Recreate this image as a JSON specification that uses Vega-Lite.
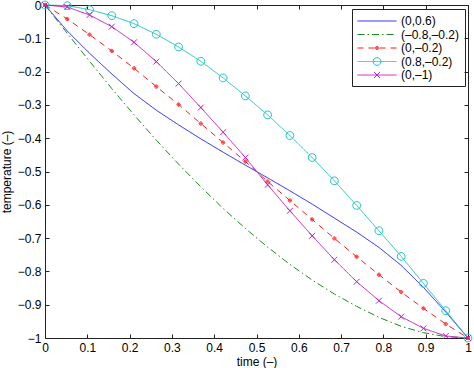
{
  "$schema": "https://vega.github.io/schema/vega-lite/v6.json",
  "width": 423,
  "height": 333,
  "autosize": {"type": "none"},
  "padding": {"left": 45, "top": 5, "right": 6, "bottom": 30},
  "background": "white",
  "config": {
    "view": {"stroke": null},
    "axis": {
      "grid": false,
      "domainColor": "#222222",
      "tickColor": "#222222",
      "domainWidth": 1,
      "tickWidth": 1,
      "labelFont": "Liberation Sans",
      "labelFontSize": 12,
      "labelColor": "black",
      "titleFont": "Liberation Sans",
      "titleFontSize": 12,
      "titleFontWeight": "normal",
      "titleColor": "black",
      "labelFlush": false,
      "labelOverlap": false
    }
  },
  "data": {
    "values": [
      {"series": "(0,0.6)", "time": 0, "temperature": 0},
      {"series": "(0,0.6)", "time": 0.0526, "temperature": -0.078},
      {"series": "(0,0.6)", "time": 0.1053, "temperature": -0.145},
      {"series": "(0,0.6)", "time": 0.1579, "temperature": -0.207},
      {"series": "(0,0.6)", "time": 0.2105, "temperature": -0.266},
      {"series": "(0,0.6)", "time": 0.2632, "temperature": -0.316},
      {"series": "(0,0.6)", "time": 0.3158, "temperature": -0.36},
      {"series": "(0,0.6)", "time": 0.3684, "temperature": -0.402},
      {"series": "(0,0.6)", "time": 0.4211, "temperature": -0.442},
      {"series": "(0,0.6)", "time": 0.4737, "temperature": -0.481},
      {"series": "(0,0.6)", "time": 0.5263, "temperature": -0.519},
      {"series": "(0,0.6)", "time": 0.5789, "temperature": -0.558},
      {"series": "(0,0.6)", "time": 0.6316, "temperature": -0.598},
      {"series": "(0,0.6)", "time": 0.6842, "temperature": -0.64},
      {"series": "(0,0.6)", "time": 0.7368, "temperature": -0.682},
      {"series": "(0,0.6)", "time": 0.7895, "temperature": -0.728},
      {"series": "(0,0.6)", "time": 0.8421, "temperature": -0.782},
      {"series": "(0,0.6)", "time": 0.8947, "temperature": -0.848},
      {"series": "(0,0.6)", "time": 0.9474, "temperature": -0.922},
      {"series": "(0,0.6)", "time": 1, "temperature": -1},
      {"series": "(–0.8,–0.2)", "time": 0, "temperature": 0},
      {"series": "(–0.8,–0.2)", "time": 0.0526, "temperature": -0.085},
      {"series": "(–0.8,–0.2)", "time": 0.1053, "temperature": -0.169},
      {"series": "(–0.8,–0.2)", "time": 0.1579, "temperature": -0.251},
      {"series": "(–0.8,–0.2)", "time": 0.2105, "temperature": -0.33},
      {"series": "(–0.8,–0.2)", "time": 0.2632, "temperature": -0.406},
      {"series": "(–0.8,–0.2)", "time": 0.3158, "temperature": -0.478},
      {"series": "(–0.8,–0.2)", "time": 0.3684, "temperature": -0.546},
      {"series": "(–0.8,–0.2)", "time": 0.4211, "temperature": -0.611},
      {"series": "(–0.8,–0.2)", "time": 0.4737, "temperature": -0.671},
      {"series": "(–0.8,–0.2)", "time": 0.5263, "temperature": -0.727},
      {"series": "(–0.8,–0.2)", "time": 0.5789, "temperature": -0.779},
      {"series": "(–0.8,–0.2)", "time": 0.6316, "temperature": -0.826},
      {"series": "(–0.8,–0.2)", "time": 0.6842, "temperature": -0.868},
      {"series": "(–0.8,–0.2)", "time": 0.7368, "temperature": -0.905},
      {"series": "(–0.8,–0.2)", "time": 0.7895, "temperature": -0.938},
      {"series": "(–0.8,–0.2)", "time": 0.8421, "temperature": -0.965},
      {"series": "(–0.8,–0.2)", "time": 0.8947, "temperature": -0.984},
      {"series": "(–0.8,–0.2)", "time": 0.9474, "temperature": -0.996},
      {"series": "(–0.8,–0.2)", "time": 1, "temperature": -1},
      {"series": "(0,–0.2)", "time": 0, "temperature": 0},
      {"series": "(0,–0.2)", "time": 0.0526, "temperature": -0.042},
      {"series": "(0,–0.2)", "time": 0.1053, "temperature": -0.089},
      {"series": "(0,–0.2)", "time": 0.1579, "temperature": -0.138},
      {"series": "(0,–0.2)", "time": 0.2105, "temperature": -0.19},
      {"series": "(0,–0.2)", "time": 0.2632, "temperature": -0.245},
      {"series": "(0,–0.2)", "time": 0.3158, "temperature": -0.299},
      {"series": "(0,–0.2)", "time": 0.3684, "temperature": -0.356},
      {"series": "(0,–0.2)", "time": 0.4211, "temperature": -0.413},
      {"series": "(0,–0.2)", "time": 0.4737, "temperature": -0.47},
      {"series": "(0,–0.2)", "time": 0.5263, "temperature": -0.53},
      {"series": "(0,–0.2)", "time": 0.5789, "temperature": -0.587},
      {"series": "(0,–0.2)", "time": 0.6316, "temperature": -0.644},
      {"series": "(0,–0.2)", "time": 0.6842, "temperature": -0.701},
      {"series": "(0,–0.2)", "time": 0.7368, "temperature": -0.756},
      {"series": "(0,–0.2)", "time": 0.7895, "temperature": -0.81},
      {"series": "(0,–0.2)", "time": 0.8421, "temperature": -0.862},
      {"series": "(0,–0.2)", "time": 0.8947, "temperature": -0.911},
      {"series": "(0,–0.2)", "time": 0.9474, "temperature": -0.958},
      {"series": "(0,–0.2)", "time": 1, "temperature": -1},
      {"series": "(0.8,–0.2)", "time": 0, "temperature": 0},
      {"series": "(0.8,–0.2)", "time": 0.0526, "temperature": -0.002},
      {"series": "(0.8,–0.2)", "time": 0.1053, "temperature": -0.014},
      {"series": "(0.8,–0.2)", "time": 0.1579, "temperature": -0.032},
      {"series": "(0.8,–0.2)", "time": 0.2105, "temperature": -0.056},
      {"series": "(0.8,–0.2)", "time": 0.2632, "temperature": -0.088},
      {"series": "(0.8,–0.2)", "time": 0.3158, "temperature": -0.126},
      {"series": "(0.8,–0.2)", "time": 0.3684, "temperature": -0.169},
      {"series": "(0.8,–0.2)", "time": 0.4211, "temperature": -0.219},
      {"series": "(0.8,–0.2)", "time": 0.4737, "temperature": -0.273},
      {"series": "(0.8,–0.2)", "time": 0.5263, "temperature": -0.33},
      {"series": "(0.8,–0.2)", "time": 0.5789, "temperature": -0.392},
      {"series": "(0.8,–0.2)", "time": 0.6316, "temperature": -0.458},
      {"series": "(0.8,–0.2)", "time": 0.6842, "temperature": -0.528},
      {"series": "(0.8,–0.2)", "time": 0.7368, "temperature": -0.602},
      {"series": "(0.8,–0.2)", "time": 0.7895, "temperature": -0.678},
      {"series": "(0.8,–0.2)", "time": 0.8421, "temperature": -0.755},
      {"series": "(0.8,–0.2)", "time": 0.8947, "temperature": -0.836},
      {"series": "(0.8,–0.2)", "time": 0.9474, "temperature": -0.918},
      {"series": "(0.8,–0.2)", "time": 1, "temperature": -1},
      {"series": "(0,–1)", "time": 0, "temperature": 0},
      {"series": "(0,–1)", "time": 0.0526, "temperature": -0.006},
      {"series": "(0,–1)", "time": 0.1053, "temperature": -0.03},
      {"series": "(0,–1)", "time": 0.1579, "temperature": -0.065},
      {"series": "(0,–1)", "time": 0.2105, "temperature": -0.112},
      {"series": "(0,–1)", "time": 0.2632, "temperature": -0.17},
      {"series": "(0,–1)", "time": 0.3158, "temperature": -0.236},
      {"series": "(0,–1)", "time": 0.3684, "temperature": -0.308},
      {"series": "(0,–1)", "time": 0.4211, "temperature": -0.382},
      {"series": "(0,–1)", "time": 0.4737, "temperature": -0.458},
      {"series": "(0,–1)", "time": 0.5263, "temperature": -0.54},
      {"series": "(0,–1)", "time": 0.5789, "temperature": -0.618},
      {"series": "(0,–1)", "time": 0.6316, "temperature": -0.693},
      {"series": "(0,–1)", "time": 0.6842, "temperature": -0.765},
      {"series": "(0,–1)", "time": 0.7368, "temperature": -0.831},
      {"series": "(0,–1)", "time": 0.7895, "temperature": -0.888},
      {"series": "(0,–1)", "time": 0.8421, "temperature": -0.936},
      {"series": "(0,–1)", "time": 0.8947, "temperature": -0.971},
      {"series": "(0,–1)", "time": 0.9474, "temperature": -0.994},
      {"series": "(0,–1)", "time": 1, "temperature": -1}
    ]
  },
  "resolve": {
    "legend": {"color": "independent", "strokeDash": "independent", "shape": "independent"},
    "axis": {"x": "independent", "y": "independent"}
  },
  "layer": [
    {
      "mark": {"type": "line", "strokeWidth": 1},
      "encoding": {
        "x": {
          "field": "time", "type": "quantitative",
          "scale": {"domain": [0, 1], "nice": false, "zero": false},
          "axis": {
            "orient": "bottom", "title": "time (–)", "format": "~g",
            "values": [0, 0.1, 0.2, 0.3, 0.4, 0.5, 0.6, 0.7, 0.8, 0.9, 1],
            "tickSize": -4, "labelPadding": 8, "titlePadding": 3
          }
        },
        "y": {
          "field": "temperature", "type": "quantitative",
          "scale": {"domain": [-1, 0], "nice": false, "zero": false},
          "axis": {
            "orient": "left", "title": "temperature (–)", "format": "~g",
            "values": [-1, -0.9, -0.8, -0.7, -0.6, -0.5, -0.4, -0.3, -0.2, -0.1, 0],
            "tickSize": -4, "labelPadding": 8, "titlePadding": 4
          }
        },
        "color": {
          "field": "series", "type": "nominal",
          "scale": {
            "domain": ["(0,0.6)", "(–0.8,–0.2)", "(0,–0.2)", "(0.8,–0.2)", "(0,–1)"],
            "range": ["#1f1fff", "#1e8a1e", "#ff1a1a", "#1cc4c4", "#c41cc4"]
          },
          "legend": {
            "orient": "none", "legendX": 307, "legendY": 4, "direction": "vertical",
            "title": null, "symbolType": "M-1,0L5,0", "symbolSize": 169,
            "symbolStrokeWidth": 1, "labelFont": "Liberation Sans", "labelFontSize": 12,
            "labelColor": "black", "labelOffset": 30, "rowPadding": 0.5, "padding": 5,
            "strokeColor": "#222222"
          }
        },
        "strokeDash": {
          "field": "series", "type": "nominal",
          "scale": {
            "domain": ["(0,0.6)", "(–0.8,–0.2)", "(0,–0.2)", "(0.8,–0.2)", "(0,–1)"],
            "range": [[1, 0], [7, 3, 1.5, 3], [6, 5], [1, 0], [1, 0]]
          }
        }
      }
    },
    {
      "transform": [
        {"filter": {"field": "series", "oneOf": ["(0,–0.2)", "(0.8,–0.2)", "(0,–1)"]}}
      ],
      "mark": {"type": "point", "filled": false, "size": 169, "strokeWidth": 1, "opacity": 1},
      "encoding": {
        "x": {
          "field": "time", "type": "quantitative",
          "scale": {"domain": [0, 1], "nice": false, "zero": false},
          "axis": {
            "orient": "top", "title": null, "labels": false,
            "values": [0, 0.1, 0.2, 0.3, 0.4, 0.5, 0.6, 0.7, 0.8, 0.9, 1],
            "tickSize": -4
          }
        },
        "y": {
          "field": "temperature", "type": "quantitative",
          "scale": {"domain": [-1, 0], "nice": false, "zero": false},
          "axis": {
            "orient": "right", "title": null, "labels": false,
            "values": [-1, -0.9, -0.8, -0.7, -0.6, -0.5, -0.4, -0.3, -0.2, -0.1, 0],
            "tickSize": -4
          }
        },
        "color": {
          "field": "series", "type": "nominal",
          "scale": {
            "domain": ["(0,0.6)", "(–0.8,–0.2)", "(0,–0.2)", "(0.8,–0.2)", "(0,–1)"],
            "range": ["#1f1fff", "#1e8a1e", "#ff1a1a", "#1cc4c4", "#c41cc4"]
          },
          "legend": {
            "orient": "none", "legendX": 320, "legendY": 4, "direction": "vertical",
            "title": null, "symbolSize": 169, "symbolStrokeWidth": 1,
            "labelFont": "Liberation Sans", "labelFontSize": 12, "labelExpr": "''",
            "labelOffset": 30, "rowPadding": 0.5, "padding": 5
          }
        },
        "shape": {
          "field": "series", "type": "nominal",
          "scale": {
            "domain": ["(0,0.6)", "(–0.8,–0.2)", "(0,–0.2)", "(0.8,–0.2)", "(0,–1)"],
            "range": [
              "M0,0",
              "M0,0",
              "M0.25,0A0.25,0.25,0,1,1,-0.25,0A0.25,0.25,0,1,1,0.25,0M0.1,0A0.1,0.1,0,1,1,-0.1,0A0.1,0.1,0,1,1,0.1,0",
              "M0.6,0A0.6,0.6,0,1,1,-0.6,0A0.6,0.6,0,1,1,0.6,0Z",
              "M-0.45,-0.45L0.45,0.45M-0.45,0.45L0.45,-0.45"
            ]
          }
        }
      }
    }
  ]
}
